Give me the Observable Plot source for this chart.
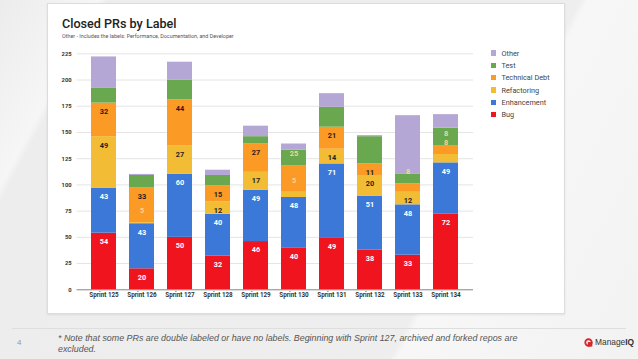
<!DOCTYPE html>
<html>
<head>
<meta charset="utf-8">
<script src="https://cdn.jsdelivr.net/npm/d3@7"></script>
<script src="https://cdn.jsdelivr.net/npm/@observablehq/plot@0.6"></script>
<style>
  html, body { margin: 0; padding: 0; }
  body {
    width: 638px; height: 359px; overflow: hidden; position: relative;
    background: linear-gradient(118deg, #ececec 0%, #f6f6f6 12%, #ededed 13%, #eeeeee 70%, #f7f7f7 71%, #f2f2f2 100%);
    font-family: Roboto, "Liberation Sans", sans-serif;
  }
  #card {
    position: absolute; left: 47px; top: 3px; width: 518px; height: 311px;
    background: #fff; border: 1px solid #dcdcdc; box-sizing: border-box;
    box-shadow: 0 1px 2px rgba(0,0,0,0.08);
  }
  #chart { position: absolute; left: 0; top: 0; }
  #title { position: absolute; left: 62px; top: 15.5px; font-size: 12.6px; font-weight: 500; color: #222; white-space: nowrap; }
  #subtitle { position: absolute; left: 62px; top: 32.5px; font-size: 5.4px; color: #555; white-space: nowrap; }
  #legend { position: absolute; left: 490.5px; top: 47px; }
  .li { height: 12.3px; display: flex; align-items: center; font-size: 7.3px; color: #444; white-space: nowrap; }
  .sw { width: 5.5px; height: 5.5px; margin-right: 5.5px; }
  #rule { position: absolute; left: 12px; width: 614px; top: 328px; height: 1px; background: #dedede; }
  #page { position: absolute; left: 17px; top: 338px; font-size: 8px; color: #999; font-family: "Liberation Sans", sans-serif; }
  #note { position: absolute; left: 58px; top: 333px; width: 480px; font-size: 8.9px; line-height: 10.5px; color: #555; font-style: italic; font-family: "Liberation Sans", sans-serif; }
  #logo { position: absolute; left: 584px; top: 337px; font-size: 8.4px; color: #333; display: flex; align-items: center; font-family: "Liberation Sans", sans-serif; white-space: nowrap; }
</style>
</head>
<body>
<div id="card"></div>
<div id="chart"></div>
<div id="title">Closed PRs by Label</div>
<div id="subtitle">Other - Includes the labels: Performance, Documentation, and Developer</div>
<div id="legend"></div>
<div id="rule"></div>
<div id="page">4</div>
<div id="note">* Note that some PRs are double labeled or have no labels. Beginning with Sprint 127, archived and forked repos are excluded.</div>
<div id="logo"><svg width="9" height="9" viewBox="0 0 10 10" style="margin-right:2px"><circle cx="5" cy="5" r="3.6" fill="none" stroke="#d8262c" stroke-width="2"/><rect x="4.2" y="4.5" width="5" height="5" fill="#d8262c"/></svg><span>Manage</span><b>IQ</b></div>
<script>
const sprints = ["Sprint 125","Sprint 126","Sprint 127","Sprint 128","Sprint 129","Sprint 130","Sprint 131","Sprint 132","Sprint 133","Sprint 134"];
const bug         = [54, 20, 50, 32, 46, 40, 49, 38, 33, 72];
const enhancement = [43, 43, 60, 40, 49, 48, 71, 51, 48, 49];
const refactoring = [49,  1, 27, 12, 17,  5, 14, 20, 12,  8];
const techDebt    = [32, 33, 44, 15, 27, 25, 21, 11,  8,  8];
const test        = [14, 12, 19, 10,  7, 15, 19, 26,  9, 17];
const other       = [30,  1, 17,  5, 10,  6, 13,  1, 56, 13];
// faint (overlapping) labels shown in the original
const paleRefactoring = ["", "5", "", "", "", "5", "", "", "", "8"];
const paleTechDebt    = ["", "", "", "", "", "25", "", "", "8", "8"];
const yTicks = [0, 25, 50, 75, 100, 125, 150, 175, 200, 225];

const seriesNames = ["Bug", "Enhancement", "Refactoring", "Technical Debt", "Test", "Other"];
const seriesValues = [bug, enhancement, refactoring, techDebt, test, other];
const seriesColors = ["#f0141e", "#3c78d8", "#f2bd35", "#fb9a24", "#6aa84f", "#b4a7d6"];

const data = sprints.flatMap((s, i) => seriesNames.map((name, j) => ({
  sprint: s, series: name, value: seriesValues[j][i],
  pale: name === "Refactoring" ? paleRefactoring[i] : name === "Technical Debt" ? paleTechDebt[i] : ""
})));

const stackOpts = {x: "sprint", y: "value", z: "series", order: seriesNames};

const chart = Plot.plot({
  width: 638, height: 310,
  marginLeft: 76.6, marginRight: 165, marginTop: 53.3, marginBottom: 20.7,
  style: {fontFamily: "Roboto, sans-serif", background: "transparent", overflow: "visible"},
  x: {domain: sprints, padding: 0.35, label: null},
  y: {domain: [0, 225], label: null},
  color: {domain: seriesNames, range: seriesColors},
  marks: [
    Plot.gridY(yTicks.filter(t => t > 0), {stroke: "#e4e4e4", strokeOpacity: 1}),
    Plot.barY(data, Plot.stackY({...stackOpts, fill: "series"})),
    Plot.text(data, Plot.stackY2({...stackOpts,
      text: d => (d.series === "Bug" || d.series === "Enhancement") ? String(d.value) : null,
      fill: "white", dy: 8.5, fontWeight: "bold", fontSize: 7.3})),
    Plot.text(data, Plot.stackY2({...stackOpts,
      text: d => ((d.series === "Refactoring" || d.series === "Technical Debt") && !d.pale) ? String(d.value) : null,
      fill: "#1f1f1f", dy: 8.5, fontWeight: "bold", fontSize: 7.3})),
    Plot.text(data, Plot.stackY2({...stackOpts,
      text: d => d.pale || null,
      fill: "#f7d596", dy: -12, fontWeight: "bold", fontSize: 7.3})),
    Plot.ruleY([0], {stroke: "#666", strokeWidth: 0.8}),
    Plot.axisY({ticks: yTicks, tickSize: 0, tickPadding: 5.5, fontSize: 5.8, fontWeight: "bold", fill: "#333"}),
    Plot.axisX({tickSize: 0, tickPadding: 3, fontSize: 6.3, fontWeight: "bold", fill: "#333"})
  ]
});
document.getElementById("chart").appendChild(chart);

const legend = document.getElementById("legend");
for (let j = seriesNames.length - 1; j >= 0; j--) {
  const row = document.createElement("div");
  row.className = "li";
  row.innerHTML = `<span class="sw" style="background:${seriesColors[j]}"></span><span>${seriesNames[j]}</span>`;
  legend.appendChild(row);
}
</script>
</body>
</html>
